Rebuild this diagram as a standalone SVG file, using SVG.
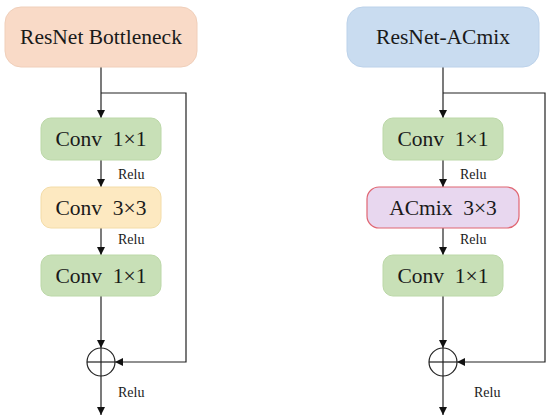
<svg xmlns="http://www.w3.org/2000/svg" width="550" height="419" viewBox="0 0 550 419">
<style>
.t{font-family:"Liberation Serif","Times New Roman",serif;fill:#1a1a1a;text-anchor:middle}
.big{font-size:21.5px}
.relu{font-family:"Liberation Serif","Times New Roman",serif;font-size:14px;fill:#1a1a1a}
.ln{fill:none;stroke:#222;stroke-width:1.2}
.green{fill:#c8e0b7;stroke:#bcd8a8;stroke-width:1}
</style>
<defs>
<marker id="ah" viewBox="0 0 10 10" refX="10" refY="5" markerWidth="8" markerHeight="8" markerUnits="userSpaceOnUse" orient="auto">
<path d="M0,0 L10,5 L0,10 Z" fill="#111"/>
</marker>
</defs>
<rect width="550" height="419" fill="#fff"/>
<g id="connectors">
<line class="ln" x1="101" y1="67" x2="101" y2="118" marker-end="url(#ah)"/>
<polyline class="ln" points="101,93 186,93 186,362 115,362" marker-end="url(#ah)"/>
<line class="ln" x1="101" y1="160" x2="101" y2="187" marker-end="url(#ah)"/>
<line class="ln" x1="101" y1="228" x2="101" y2="255" marker-end="url(#ah)"/>
<line class="ln" x1="101" y1="296" x2="101" y2="348" marker-end="url(#ah)"/>
<line class="ln" x1="101" y1="376" x2="101" y2="415" marker-end="url(#ah)"/>
<line class="ln" x1="443" y1="67" x2="443" y2="118" marker-end="url(#ah)"/>
<polyline class="ln" points="443,93 545,93 545,362 457,362" marker-end="url(#ah)"/>
<line class="ln" x1="443" y1="160" x2="443" y2="187" marker-end="url(#ah)"/>
<line class="ln" x1="443" y1="228" x2="443" y2="255" marker-end="url(#ah)"/>
<line class="ln" x1="443" y1="296" x2="443" y2="348" marker-end="url(#ah)"/>
<line class="ln" x1="443" y1="376" x2="443" y2="415" marker-end="url(#ah)"/>
<text class="relu" x="118" y="179">Relu</text>
<text class="relu" x="118" y="244">Relu</text>
<text class="relu" x="118" y="397">Relu</text>
<text class="relu" x="460" y="179">Relu</text>
<text class="relu" x="460" y="244">Relu</text>
<text class="relu" x="474" y="397">Relu</text>
</g>
<g id="bottleneck-title">
<rect x="5" y="7" width="192" height="60" rx="16" fill="#f9dac7" stroke="#f0cfba"/>
<text class="t big" x="101" y="44">ResNet Bottleneck</text>
</g>
<g id="left-conv1">
<rect class="green" x="41" y="118" width="120" height="42" rx="10"/>
<text class="t big" x="101" y="146" xml:space="preserve">Conv  1×1</text>
</g>
<g id="left-conv3">
<rect x="41" y="187" width="120" height="41" rx="10" fill="#fde9c1" stroke="#f3dca8"/>
<text class="t big" x="101" y="215" xml:space="preserve">Conv  3×3</text>
</g>
<g id="left-conv1b">
<rect class="green" x="41" y="255" width="120" height="41" rx="10"/>
<text class="t big" x="101" y="283" xml:space="preserve">Conv  1×1</text>
</g>
<g id="left-sum">
<circle cx="101" cy="362" r="14" fill="none" stroke="#222" stroke-width="1.2"/>
<line class="ln" x1="87" y1="362" x2="115" y2="362"/>
<line class="ln" x1="101" y1="348" x2="101" y2="376"/>
</g>
<g id="acmix-title">
<rect x="347" y="7" width="192" height="60" rx="16" fill="#c9dcf0" stroke="#bcd2ea"/>
<text class="t big" x="443" y="44">ResNet-ACmix</text>
</g>
<g id="right-conv1">
<rect class="green" x="383" y="118" width="120" height="42" rx="10"/>
<text class="t big" x="443" y="146" xml:space="preserve">Conv  1×1</text>
</g>
<g id="right-acmix">
<rect x="367" y="187" width="152" height="41" rx="12" fill="#e8d7ef" stroke="#e06672" stroke-width="1.2"/>
<text class="t big" x="443" y="215" xml:space="preserve">ACmix  3×3</text>
</g>
<g id="right-conv1b">
<rect class="green" x="383" y="255" width="120" height="41" rx="10"/>
<text class="t big" x="443" y="283" xml:space="preserve">Conv  1×1</text>
</g>
<g id="right-sum">
<circle cx="443" cy="362" r="14" fill="none" stroke="#222" stroke-width="1.2"/>
<line class="ln" x1="429" y1="362" x2="457" y2="362"/>
<line class="ln" x1="443" y1="348" x2="443" y2="376"/>
</g>
</svg>
